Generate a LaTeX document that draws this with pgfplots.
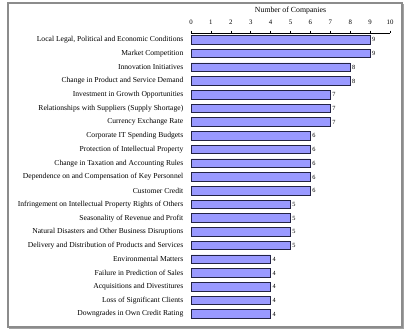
\documentclass[border=0pt]{standalone}
\usepackage{fontspec}
\setmainfont{Liberation Serif}
\usepackage{pgfplots}
\pgfplotsset{compat=1.18}
\definecolor{barfill}{HTML}{9999FF}
\definecolor{baredge}{HTML}{222244}
\definecolor{framegray}{HTML}{8C8C8C}
\begin{document}
\begin{tikzpicture}[x=1pt,y=1pt]
\useasboundingbox (0,0) rectangle (411,330);
\draw[framegray, line width=1.3pt] (8,3) rectangle (402,327);
\draw[framegray!80, line width=0.8pt] (9,2) -- (403,2) -- (403,326);
\begin{axis}[
  at={(191pt,9pt)}, anchor=south west,
  scale only axis, width=199pt, height=288pt,
  xmin=0, xmax=10, ymin=-0.5, ymax=20.5,
  axis x line=top, axis y line=left,
  x axis line style={-, black, line width=0.7pt},
  y axis line style={draw=none},
  xtick={0,...,10},
  ytick={0,...,20},
  ytick style={draw=none},
  xtick style={black, line width=0.6pt},
  tick align=outside,
  major tick length=2.5pt,
  /pgf/number format/assume math mode=true,
  xticklabel style={font=\fontsize{6.8}{7}\selectfont, yshift=2pt},
  yticklabel style={font=\fontsize{7.6}{8}\selectfont, inner xsep=0pt, xshift=-5pt},
  yticklabels={Downgrades in Own Credit Rating, Loss of Significant Clients, Acquisitions and Divestitures, Failure in Prediction of Sales, Environmental Matters, Delivery and Distribution of Products and Services, Natural Disasters and Other Business Disruptions, Seasonality of Revenue and Profit, Infringement on Intellectual Property Rights of Others, Customer Credit, Dependence on and Compensation of Key Personnel, Change in Taxation and Accounting Rules, Protection of Intellectual Property, Corporate IT Spending Budgets, Currency Exchange Rate, Relationships with Suppliers (Supply Shortage), Investment in Growth Opportunities, Change in Product and Service Demand, Innovation Initiatives, Market Competition, {Local Legal, Political and Economic Conditions}},
  xlabel={Number of Companies},
  xlabel style={font=\fontsize{7.8}{8}\selectfont, yshift=-1pt},
  nodes near coords,
  nodes near coords style={font=\fontsize{6.3}{7}\selectfont, anchor=west, inner xsep=1.5pt, black},
  point meta=x,
  clip=false,
]
\addplot[xbar, bar width=8.6pt, fill=barfill, draw=baredge, line width=0.9pt] coordinates {
(9,20) (9,19) (8,18) (8,17) (7,16) (7,15) (7,14) (6,13) (6,12) (6,11) (6,10) (6,9) (5,8) (5,7) (5,6) (5,5) (4,4) (4,3) (4,2) (4,1) (4,0)
};
\end{axis}
\end{tikzpicture}
\end{document}
